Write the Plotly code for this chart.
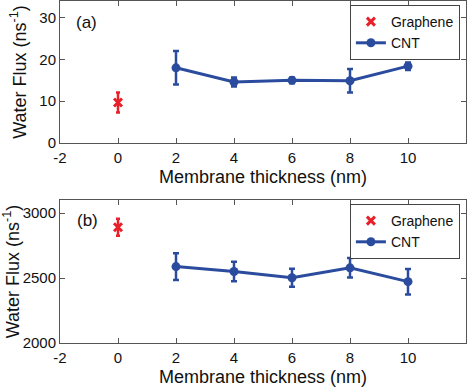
import plotly.graph_objects as go
from plotly.subplots import make_subplots

# Data
thickness_cnt = [2, 4, 6, 8, 10]
thickness_gr = [0]

flux_a_gr = [9.7]
err_a_gr = [2.4]
flux_a_cnt = [18.0, 14.6, 15.0, 14.9, 18.4]
err_a_cnt = [4.0, 1.1, 0.7, 2.8, 0.9]

flux_b_gr = [2890]
err_b_gr = [65]
flux_b_cnt = [2588, 2550, 2502, 2578, 2472]
err_b_cnt = [103, 75, 70, 75, 98]

x_tickvals = [-2, 0, 2, 4, 6, 8, 10, 12]
x_ticktext = ["-2", "0", "2", "4", "6", "8", "10", "12"]
ya_tickvals = [0, 10, 20, 30]
yb_tickvals = [2000, 2500, 3000]

RED = "#e8202a"
BLUE = "#2b4c9e"
FONT = "Liberation Sans, Arial, sans-serif"

fig = make_subplots(rows=2, cols=1, vertical_spacing=0.0)

def add_panel(row, gr_y, gr_e, cnt_y, cnt_e, legend):
    fig.add_trace(go.Scatter(
        x=thickness_gr, y=gr_y, mode="markers", name="Graphene",
        marker=dict(symbol="x-thin", size=8, color=RED, line=dict(width=3, color=RED)),
        error_y=dict(type="data", array=gr_e, color=RED, thickness=2.5, width=2),
        legend=legend), row=row, col=1)
    fig.add_trace(go.Scatter(
        x=thickness_cnt, y=cnt_y, mode="lines+markers", name="CNT",
        line=dict(color=BLUE, width=3),
        marker=dict(symbol="circle", size=9, color=BLUE),
        error_y=dict(type="data", array=cnt_e, color=BLUE, thickness=2.5, width=3),
        legend=legend), row=row, col=1)

add_panel(1, flux_a_gr, err_a_gr, flux_a_cnt, err_a_cnt, "legend")
add_panel(2, flux_b_gr, err_b_gr, flux_b_cnt, err_b_cnt, "legend2")

axis_common = dict(showline=True, linecolor="#555", linewidth=1, mirror="ticks",
                   ticks="inside", ticklen=5, tickcolor="#555", showgrid=False,
                   zeroline=False, tickfont=dict(size=15, color="#111", family=FONT))

top_dom = [(343 - 143) / 342, 1.0]
bot_dom = [0.0, (343 - 200) / 342]

xtitle = dict(text="Membrane thickness (nm)", font=dict(size=18, color="#111", family=FONT), standoff=5)
fig.update_xaxes(range=[-2, 12], tickvals=x_tickvals, ticktext=x_ticktext, title=xtitle,
                 ticklabelstandoff=1, **axis_common)
fig.update_yaxes(**axis_common)
fig.update_yaxes(range=[0, 34], tickvals=ya_tickvals, domain=top_dom,
                 title=dict(text="Water Flux (ns<sup>-1</sup>)", font=dict(size=18, color="#111", family=FONT), standoff=8),
                 row=1, col=1)
fig.update_yaxes(range=[2000, 3100], tickvals=yb_tickvals, domain=bot_dom,
                 title=dict(text="Water Flux (ns<sup>-1</sup>)", font=dict(size=18, color="#111", family=FONT), standoff=2),
                 row=2, col=1)

fig.add_annotation(x=-1.1, y=28.8, xref="x", yref="y", text="(a)", showarrow=False,
                   font=dict(size=17, color="#111", family=FONT))
fig.add_annotation(x=-1.05, y=2943, xref="x2", yref="y2", text="(b)", showarrow=False,
                   font=dict(size=17, color="#111", family=FONT))

legend_common = dict(bgcolor="white", bordercolor="#444", borderwidth=1,
                     font=dict(size=14, color="#111", family=FONT),
                     xanchor="right", yanchor="top", x=0.985, tracegroupgap=0)
fig.update_layout(
    legend=dict(y=(343 - 5) / 342, **legend_common),
    legend2=dict(y=(343 - 204) / 342, **legend_common),
    width=474, height=387,
    margin=dict(l=60, r=8, t=1, b=44, autoexpand=False),
    paper_bgcolor="white", plot_bgcolor="white",
    font=dict(family=FONT, color="#111"),
)

fig.write_html("out.html", config={"displayModeBar": False},
               post_script="document.body.style.margin='0px';document.body.style.overflow='hidden';")
